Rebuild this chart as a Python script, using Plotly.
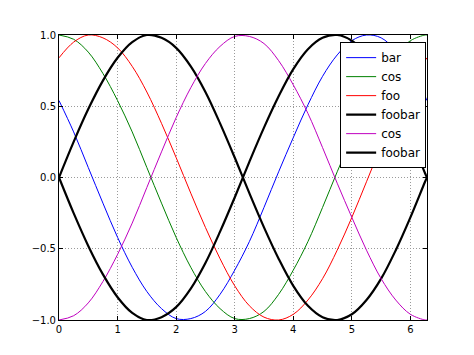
import plotly.graph_objects as go

x = [0, 0.25, 0.5, 0.75, 1.0, 1.25, 1.5, 1.75, 2.0, 2.25, 2.5, 2.75, 3.0, 3.25,
     3.5, 3.75, 4.0, 4.25, 4.5, 4.75, 5.0, 5.25, 5.5, 5.75, 6.0, 6.25, 6.2832]

bar = [0.54, 0.32, 0.07, -0.18, -0.42, -0.63, -0.80, -0.92, -0.99, -0.99, -0.94, -0.82,
       -0.65, -0.45, -0.21, 0.04, 0.28, 0.51, 0.71, 0.86, 0.96, 1.00, 0.98, 0.89, 0.75,
       0.57, 0.54]
cos1 = [1.00, 0.97, 0.88, 0.73, 0.54, 0.32, 0.07, -0.18, -0.42, -0.63, -0.80, -0.92,
        -0.99, -0.99, -0.94, -0.82, -0.65, -0.45, -0.21, 0.04, 0.28, 0.51, 0.71, 0.86,
        0.96, 1.00, 1.00]
foo = [0.84, 0.95, 1.00, 0.98, 0.91, 0.78, 0.60, 0.38, 0.14, -0.11, -0.35, -0.57,
       -0.76, -0.90, -0.98, -1.00, -0.96, -0.86, -0.71, -0.51, -0.28, -0.03, 0.22, 0.45,
       0.66, 0.82, 0.84]
foobar1 = [0.00, 0.25, 0.48, 0.68, 0.84, 0.95, 1.00, 0.98, 0.91, 0.78, 0.60, 0.38,
           0.14, -0.11, -0.35, -0.57, -0.76, -0.90, -0.98, -1.00, -0.96, -0.86, -0.71,
           -0.51, -0.28, -0.03, 0.00]
cos2 = [-1.00, -0.97, -0.88, -0.73, -0.54, -0.32, -0.07, 0.18, 0.42, 0.63, 0.80, 0.92,
        0.99, 0.99, 0.94, 0.82, 0.65, 0.45, 0.21, -0.04, -0.28, -0.51, -0.71, -0.86,
        -0.96, -1.00, -1.00]
foobar2 = [0.00, -0.25, -0.48, -0.68, -0.84, -0.95, -1.00, -0.98, -0.91, -0.78, -0.60,
           -0.38, -0.14, 0.11, 0.35, 0.57, 0.76, 0.90, 0.98, 1.00, 0.96, 0.86, 0.71,
           0.51, 0.28, 0.03, 0.00]

x_ticks = [0, 1, 2, 3, 4, 5, 6]
y_ticks = [-1.0, -0.5, 0.0, 0.5, 1.0]

series = [
    ("bar", bar, "#0000ff", 1),
    ("cos", cos1, "#008000", 1),
    ("foo", foo, "#ff0000", 1),
    ("foobar", foobar1, "#000000", 2.2),
    ("cos", cos2, "#bf00bf", 1),
    ("foobar", foobar2, "#000000", 2.2),
]

fig = go.Figure()
for name, ys, color, w in series:
    fig.add_trace(go.Scatter(x=x, y=ys, mode="lines", name=name,
                             line=dict(color=color, width=w, shape="spline", smoothing=1.0)))

axis_common = dict(showline=True, linecolor="black", linewidth=1, mirror="ticks",
                   ticks="inside", ticklen=4, tickcolor="black",
                   showgrid=True, gridcolor="#9a9a9a", griddash="1px,2px", gridwidth=1,
                   zeroline=False, tickfont=dict(family="DejaVu Sans", size=10, color="black"))

fig.update_xaxes(range=[0, 6.2832], tickvals=x_ticks, ticktext=[str(v) for v in x_ticks],
                 **axis_common)
fig.update_yaxes(range=[-1.0, 1.0], tickvals=y_ticks, tickformat=".1f", **axis_common)

fig.update_layout(
    width=474, height=355,
    margin=dict(l=51, r=55, t=27, b=43),
    paper_bgcolor="white", plot_bgcolor="white",
    font=dict(family="DejaVu Sans", color="black"),
    showlegend=True,
    legend=dict(x=0.764, y=0.975, xanchor="left", yanchor="top",
                bgcolor="white", bordercolor="black", borderwidth=1,
                font=dict(family="DejaVu Sans", size=12, color="black"),
                itemwidth=30, tracegroupgap=0),
)

fig.write_html("out.html")
